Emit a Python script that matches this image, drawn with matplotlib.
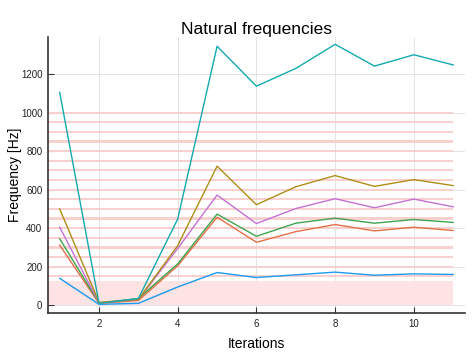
import matplotlib
matplotlib.use("Agg")
import matplotlib.pyplot as plt

plt.rcParams['font.family'] = ['Liberation Sans', 'DejaVu Sans']

iterations = [1, 2, 3, 4, 5, 6, 7, 8, 9, 10, 11]
mode1 = [140, 5, 10, 95, 170, 144, 158, 172, 156, 163, 160]
mode2 = [312, 10, 25, 205, 457, 327, 382, 419, 386, 405, 388]
mode3 = [345, 12, 35, 215, 473, 358, 426, 452, 426, 445, 430]
mode4 = [405, 12, 30, 295, 572, 424, 502, 553, 506, 551, 511]
mode5 = [500, 15, 30, 310, 722, 522, 615, 673, 617, 652, 621]
mode6 = [1105, 10, 35, 448, 1344, 1137, 1229, 1354, 1241, 1300, 1247]
series = [mode1, mode2, mode3, mode4, mode5, mode6]
colors = ['#1a9af0', '#E36F47', '#3EA44E', '#C371D2', '#AC8E18', '#13AAAE']

# forbidden-frequency bands
low_band = [0, 125]
band_centers = [150, 200, 250, 300, 350, 400, 450, 500, 550, 600, 650,
                700, 750, 800, 850, 900, 950, 1000]
band_halfwidth = 5.5
band_x = [0, 11]

fig = plt.figure(figsize=(4.74, 3.61), dpi=100)
ax = fig.add_axes([0.101, 0.133, 0.880, 0.765])

ax.fill_between(band_x, low_band[0], low_band[1], color='#fde3e3', lw=0, zorder=1)
for c in band_centers:
    ax.fill_between(band_x, c - band_halfwidth, c + band_halfwidth,
                    color='#f9d0d0', lw=0, zorder=1)

for s, col in zip(series, colors):
    ax.plot(iterations, s, color=col, lw=1.0, zorder=3)

ax.set_xlim(0.7, 11.3)
ax.set_ylim(-40, 1393)
ax.set_xticks([2, 4, 6, 8, 10])
ax.set_yticks([0, 200, 400, 600, 800, 1000, 1200])
ax.grid(True, color='#d8d8d8', lw=0.6, alpha=0.8, zorder=0)
ax.set_axisbelow(True)

for side in ['top', 'right']:
    ax.spines[side].set_visible(False)
for side in ['left', 'bottom']:
    ax.spines[side].set_color('#333333')
    ax.spines[side].set_linewidth(1.2)
ax.tick_params(direction='in', length=4, width=0.8, labelsize=7, colors='#333333',
               labelcolor='#222222', pad=4)

ax.set_title('Natural frequencies', fontsize=12.5, pad=-3)
ax.set_xlabel('Iterations', fontsize=10)
ax.set_ylabel('Frequency [Hz]', fontsize=10)
ax.xaxis.set_label_coords(0.5, -0.088)
ax.yaxis.set_label_coords(-0.062, 0.5)

fig.savefig('out.png', dpi=100)
